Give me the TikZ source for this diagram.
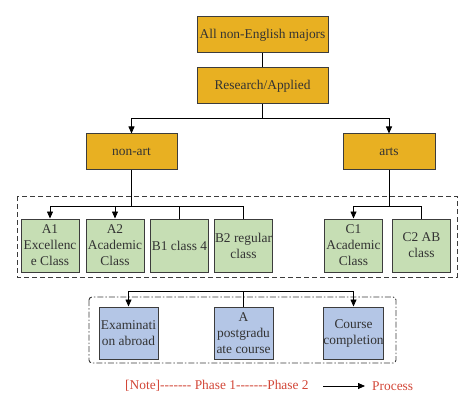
\documentclass[tikz,border=0pt]{standalone}
\usepackage{fontspec}
\setmainfont[Ligatures=TeXOff]{Liberation Serif}
\usetikzlibrary{arrows.meta}
\definecolor{boxgold}{RGB}{232,176,34}
\definecolor{boxgreen}{RGB}{198,222,180}
\definecolor{boxblue}{RGB}{180,198,230}
\definecolor{boxline}{RGB}{60,60,60}
\definecolor{notered}{RGB}{210,70,55}
\begin{document}
\begin{tikzpicture}[x=1pt, y=-1pt,
  font=\fontsize{13.4}{16}\selectfont,
  gold/.style={draw=boxline, line width=1pt, fill=boxgold, text=black!80, minimum height=36pt, inner sep=1pt},
  green/.style={draw=boxline, line width=1pt, fill=boxgreen, text=black!80, minimum width=58pt, minimum height=53pt, inner sep=0pt, align=center},
  blue/.style={draw=boxline, line width=1pt, fill=boxblue, text=black!80, minimum width=59pt, minimum height=52pt, inner sep=0pt, align=center},
  arr/.style={-{Triangle[length=7pt,width=6pt]}, line width=0.8pt},
  line/.style={line width=0.8pt}]
\useasboundingbox (0,0) rectangle (474,409);

\node [gold, minimum width=131pt] (n1) at (262.5,35) {All non-English majors};
\node [gold, minimum width=131pt] (n2) at (262.5,86) {Research/Applied};
\node [gold, minimum width=91pt] (n3) at (131.5,152) {non-art};
\node [gold, minimum width=92pt] (n4) at (389,152) {arts};

\draw [dashed, dash pattern=on 5pt off 3pt, line width=0.9pt, boxline] (17,196) rectangle (457,277);

\node [green] (a1) at (50,245.5) {A1\\Excellenc\\e Class};
\node [green] (a2) at (115,245.5) {A2\\Academic\\Class};
\node [green] (b1) at (179.5,245.5) {B1 class 4};
\node [green] (b2) at (243.5,245.5) {B2 regular\\class};
\node [green] (c1) at (353.5,245.5) {C1\\Academic\\Class};
\node [green] (c2) at (421.5,245.5) {C2 AB\\class};

\draw [dash pattern=on 6pt off 2pt on 1.5pt off 2pt, line width=0.9pt, boxline, rounded corners=3pt] (89,297) rectangle (396,363);

\node [blue] (e1) at (128.5,333) {Examinati\\on abroad};
\node [blue] (e2) at (243.5,333) {A\\postgradu\\ate course};
\node [blue] (e3) at (353.5,333) {Course\\completion};

\coordinate (j1) at (262.5,118);
\coordinate (j2) at (131.5,206);
\coordinate (j3) at (389,206);
\coordinate (j4) at (243.5,291);
\draw [line] (n1) edge (n2);
\draw [line] (n2) -- (j1);
\draw [arr] (j1) -| (n3);
\draw [arr] (j1) -| (n4);
\draw [line] (n3) -- (j2);
\draw [arr] (j2) -| (a1);
\draw [arr] (j2) -| (a2);
\draw [line] (j2) -| (b1);
\draw [line] (j2) -| (b2);
\draw [line] (n4) -- (j3);
\draw [arr] (j3) -| (c1);
\draw [line] (j3) -| (c2);
\draw [line] (e2) -- (j4);
\draw [arr] (j4) -| (e1);
\draw [arr] (j4) -| (e3);

% legend
\node [text=notered, anchor=west, inner sep=0pt] (note) at (125,386) {[Note]------- Phase 1-------Phase 2};
\node [text=notered, anchor=west, inner sep=0pt] (proc) at (372,386) {Process};
\coordinate (k1) at (323,386);
\coordinate (k2) at (365,386);
\draw [arr] (k1) -- (k2);
\end{tikzpicture}
\end{document}
